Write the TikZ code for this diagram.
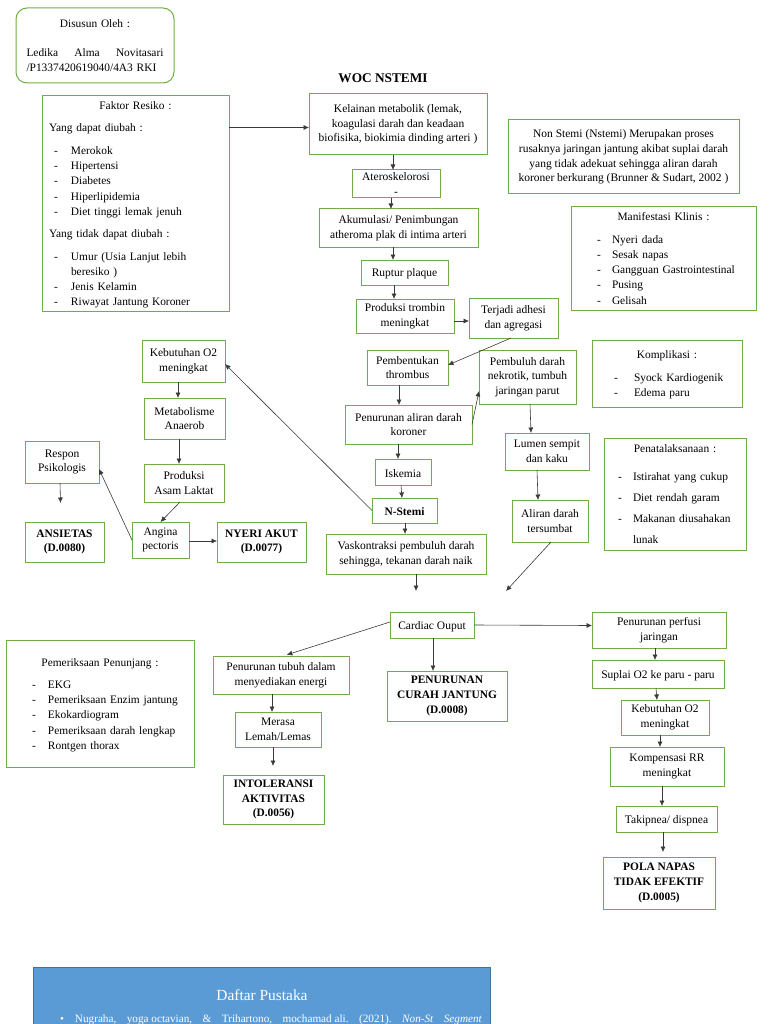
\documentclass[tikz,border=0pt]{standalone}
\usepackage{fontspec}
\setmainfont{Liberation Serif}
\usetikzlibrary{arrows.meta}
\definecolor{wocgreen}{HTML}{70AD47}
\definecolor{wocblue}{HTML}{5B9BD5}
\definecolor{wocedge}{HTML}{41719C}
\definecolor{wocline}{HTML}{3A3A3A}
\newcommand{\boxtitle}[1]{\makebox[\hsize][c]{#1}}
\newcommand{\dashline}[2][17pt]{\mbox{\makebox[#1][l]{-}#2}}

\begin{document}
\begin{tikzpicture}[x=1pt,y=-1pt,every node/.style={outer sep=0pt,inner sep=0pt}]
\tikzstyle{basebox}=[draw=wocgreen,line width=1pt,align=center,font=\fontsize{11.5}{14.6}\selectfont]
\tikzstyle{lowtext}=[execute at begin node={\rule{0pt}{11pt}}]
\tikzstyle{wocbox}=[basebox,lowtext]
\tikzstyle{diagbox}=[basebox,font=\fontsize{11.4}{14.6}\selectfont\bfseries]
\tikzstyle{listbox}=[basebox,align=left,font=\fontsize{11.4}{15.3}\selectfont]
\tikzstyle{flow}=[draw=wocline,line width=0.6pt,-{Latex[length=5.5pt,width=5pt]}]

\useasboundingbox (0,0) rectangle (768,1024);
\clip (0,0) rectangle (768,1024);

\node (disusun) at (95,45.5) [listbox,rounded corners=11pt,minimum width=158,minimum height=75,text width=137,font=\fontsize{11.4}{14.8}\selectfont] {\boxtitle{Disusun Oleh :}\\[14pt]\makebox[\hsize][s]{Ledika\hfill Alma\hfill Novitasari}\\/P1337420619040/4A3 RKI};
\node (title) at (383,78) [font=\fontsize{13.3}{15}\selectfont\bfseries] {WOC NSTEMI};

\node (faktor) at (135.5,203.5) [listbox,lowtext,minimum width=187,minimum height=215,text width=163] {\boxtitle{Faktor Resiko :}\\[7pt]\hspace*{-5pt}Yang dapat diubah :\\[7pt]\dashline{Merokok}\\\dashline{Hipertensi}\\\dashline{Diabetes}\\\dashline{Hiperlipidemia}\\\dashline{Diet tinggi lemak jenuh}\\[7pt]\hspace*{-5pt}Yang tidak dapat diubah :\\[7pt]\dashline{Umur (Usia Lanjut lebih}\\\hspace*{17pt}beresiko )\\\dashline{Jenis Kelamin}\\\dashline{Riwayat Jantung Koroner}};
\node (nonstemi) at (623.5,157) [wocbox,minimum width=231,minimum height=74] {Non Stemi (Nstemi) Merupakan proses\\rusaknya jaringan jantung akibat suplai darah\\yang tidak adekuat sehingga aliran darah\\koroner berkurang (Brunner \& Sudart, 2002 )};
\node (manifestasi) at (663.5,258.5) [listbox,minimum width=185,minimum height=103,text width=133] {\boxtitle{Manifestasi Klinis :}\\[7pt]\dashline[15pt]{Nyeri dada}\\\dashline[15pt]{Sesak napas}\\\dashline[15pt]{Gangguan Gastrointestinal}\\\dashline[15pt]{Pusing}\\\dashline[15pt]{Gelisah}};
\node (komplikasi) at (667,373.5) [listbox,lowtext,minimum width=150,minimum height=67,text width=106] {\boxtitle{Komplikasi :}\\[7pt]\dashline[20pt]{Syock Kardiogenik}\\\dashline[20pt]{Edema paru}};
\node (penata) at (675,494) [listbox,minimum width=142,minimum height=112,text width=114,font=\fontsize{11.4}{21}\selectfont] {\boxtitle{Penatalaksanaan :}\\[7pt]\dashline[15pt]{Istirahat yang cukup}\\\dashline[15pt]{Diet rendah garam}\\\dashline[15pt]{Makanan diusahakan}\\\hspace*{15pt}lunak};
\node (penunjang) at (100,703.5) [listbox,lowtext,minimum width=188,minimum height=127,text width=136] {\boxtitle{Pemeriksaan Penunjang :}\\[7pt]\dashline[16pt]{EKG}\\\dashline[16pt]{Pemeriksaan Enzim jantung}\\\dashline[16pt]{Ekokardiogram}\\\dashline[16pt]{Pemeriksaan darah lengkap}\\\dashline[16pt]{Rontgen thorax}};

\node (kelainan) at (398,124.5) [wocbox,minimum width=178,minimum height=61] {Kelainan metabolik (lemak,\\koagulasi darah dan keadaan\\biofisika, biokimia dinding arteri )};
\node (atero) at (396,184) [wocbox,minimum width=88,minimum height=28] {Ateroskelorosi\\-};
\node (akumulasi) at (398.5,228) [wocbox,minimum width=159,minimum height=38] {Akumulasi/ Penimbungan\\atheroma plak di intima arteri};
\node (ruptur) at (404.5,272.5) [wocbox,minimum width=87,minimum height=25] {Ruptur plaque};
\node (trombin) at (405,316) [wocbox,minimum width=98,minimum height=34] {Produksi trombin\\meningkat};
\node (adhesi) at (513.5,318) [wocbox,minimum width=89,minimum height=40] {Terjadi adhesi\\dan agregasi};
\node (thrombus) at (407.5,367.5) [wocbox,minimum width=81,minimum height=35] {Pembentukan\\thrombus};
\node (nekrotik) at (527.5,377) [wocbox,minimum width=97,minimum height=54] {Pembuluh darah\\nekrotik, tumbuh\\jaringan parut};
\node (koroner) at (408.5,424.5) [wocbox,minimum width=127,minimum height=39] {Penurunan aliran darah\\koroner};
\node (iskemia) at (403,472) [wocbox,minimum width=56,minimum height=26] {Iskemia};
\node (nstemi) at (404.5,510.5) [diagbox,lowtext,minimum width=65,minimum height=25] {N-Stemi};
\node (vaskon) at (406,554) [wocbox,minimum width=160,minimum height=40] {Vaskontraksi pembuluh darah\\sehingga, tekanan darah naik};
\node (lumen) at (547,451.5) [wocbox,minimum width=84,minimum height=37] {Lumen sempit\\dan kaku};
\node (tersumbat) at (550,521) [wocbox,minimum width=76,minimum height=42] {Aliran darah\\tersumbat};

\node (kebutuhan) at (183.5,361) [wocbox,minimum width=83,minimum height=42] {Kebutuhan O2\\meningkat};
\node (metabolisme) at (184.5,418.5) [wocbox,minimum width=81,minimum height=41] {Metabolisme\\Anaerob};
\node (asam) at (184,483) [wocbox,minimum width=80,minimum height=38] {Produksi\\Asam Laktat};
\node (respon) at (62,462) [wocbox,minimum width=74,minimum height=42] {Respon\\Psikologis};
\node (ansietas) at (64.5,542) [diagbox,lowtext,minimum width=79,minimum height=40] {ANSIETAS\\(D.0080)};
\node (angina) at (160.5,540) [wocbox,minimum width=57,minimum height=36] {Angina\\pectoris};
\node (nyeri) at (261.5,542) [diagbox,minimum width=89,minimum height=40] {NYERI AKUT\\(D.0077)};

\node (cardiac) at (432,625) [wocbox,minimum width=84,minimum height=26] {Cardiac Ouput};
\node (curah) at (447,696) [diagbox,lowtext,minimum width=120,minimum height=50] {PENURUNAN\\CURAH JANTUNG\\(D.0008)};
\node (tubuh) at (281,675) [wocbox,minimum width=136,minimum height=38] {Penurunan tubuh dalam\\menyediakan energi};
\node (merasa) at (278,729.5) [wocbox,minimum width=86,minimum height=35] {Merasa\\Lemah/Lemas};
\node (intoleransi) at (273.5,799.5) [diagbox,lowtext,minimum width=101,minimum height=49] {INTOLERANSI\\AKTIVITAS\\(D.0056)};
\node (perfusi) at (659,630) [wocbox,minimum width=134,minimum height=36] {Penurunan perfusi\\jaringan};
\node (suplai) at (658,674) [wocbox,minimum width=132,minimum height=28] {Suplai O2 ke paru - paru};
\node (kebutuhan2) at (665,717.5) [wocbox,minimum width=88,minimum height=35] {Kebutuhan O2\\meningkat};
\node (kompensasi) at (667,766.5) [wocbox,minimum width=114,minimum height=39] {Kompensasi RR\\meningkat};
\node (takipnea) at (666.5,819) [wocbox,minimum width=101,minimum height=26] {Takipnea/ dispnea};
\node (pola) at (659,883) [diagbox,lowtext,minimum width=112,minimum height=52] {POLA NAPAS\\TIDAK EFEKTIF\\(D.0005)};

\node (pustaka) at (261.5,997) [draw=wocedge,fill=wocblue,line width=0.8pt,minimum width=457,minimum height=60] {};
\node (pustaka_title) at (262,995) [text=white,font=\fontsize{15.4}{17}\selectfont] {Daftar Pustaka};
\node (pustaka_ref) at (271,1020) [text=white,font=\fontsize{11.2}{13}\selectfont] {\makebox[15pt][l]{•}\makebox[407pt][s]{Nugraha,\hfill yoga octavian,\hfill \&\hfill Trihartono,\hfill mochamad ali.\hfill (2021).\hfill \textit{Non-St\hfill Segment}}};

\coordinate (tersumbat_end) at (506,591);

\draw [flow] ([yshift=76pt]faktor.east) -- ([yshift=-3pt]kelainan.west);
\draw [flow] ([xshift=-5pt]kelainan.south) -- ([xshift=-3pt]atero.north);
\draw [flow] ([xshift=-5pt]atero.south) -- ([xshift=-7.5pt]akumulasi.north);
\draw [flow] ([xshift=-5.5pt]akumulasi.south) -- ([xshift=-11.5pt]ruptur.north);
\draw [flow] ([xshift=-10.5pt]ruptur.south) -- ([xshift=-11pt]trombin.north);
\draw [flow] ([yshift=-5pt]trombin.east) -- ([yshift=-3pt]adhesi.west);
\draw [flow] ([xshift=-2.5pt]adhesi.south) -- ([yshift=2.5pt]thrombus.east);
\draw [flow] ([xshift=-8.5pt]thrombus.south) -- ([xshift=-9.5pt]koroner.north);
\draw [flow] (koroner.east) -- ([yshift=-14pt]nekrotik.west);
\draw [flow] ([xshift=-10.5pt]koroner.south) -- ([xshift=-5pt]iskemia.north);
\draw [flow] ([xshift=-2pt]iskemia.south) -- ([xshift=-2.5pt]nstemi.north);
\draw [flow] ([xshift=0.5pt]nstemi.south) -- ([xshift=-1pt]vaskon.north);
\draw [flow] (nstemi.west) -- ([yshift=-3pt]kebutuhan.east);
\draw [flow] ([xshift=2.5pt]nekrotik.south) -- ([xshift=-16pt]lumen.north);
\draw [flow] ([xshift=-10pt]lumen.south) -- ([xshift=-12pt]tersumbat.north);
\draw [flow] ([xshift=1pt]tersumbat.south) -- (tersumbat_end);
\draw [flow,shorten >=21pt] ([xshift=10pt]vaskon.south) -- ([xshift=-16pt]cardiac.north);

\draw [flow] ([xshift=-5.5pt]kebutuhan.south) -- ([xshift=-6.5pt]metabolisme.north);
\draw [flow] ([xshift=-5.5pt]metabolisme.south) -- ([xshift=-5pt]asam.north);
\draw [flow] ([xshift=-4pt]asam.south) -- (angina.north);
\draw [flow] (angina.west) -- ([yshift=-7pt]respon.east);
\draw [flow] ([yshift=-1pt]angina.east) -- ([yshift=1pt]nyeri.west);
\draw [flow,shorten >=19pt] ([xshift=-2pt]respon.south) -- ([xshift=-3.5pt]ansietas.north);

\draw [flow,shorten >=4pt] ([yshift=3pt]cardiac.west) -- ([xshift=2pt]tubuh.north);
\draw [flow] ([xshift=1pt]cardiac.south) -- ([xshift=-14pt]curah.north);
\draw [flow] (cardiac.east) -- ([yshift=4.5pt]perfusi.west);
\draw [flow] ([xshift=-9pt]tubuh.south) -- ([xshift=-6pt]merasa.north);
\draw [flow,shorten >=9pt] ([xshift=-5pt]merasa.south) -- ([xshift=-0.5pt]intoleransi.north);
\draw [flow] ([xshift=-4pt]perfusi.south) -- ([xshift=-3pt]suplai.north);
\draw [flow] ([xshift=-2pt]suplai.south) -- ([xshift=-8pt]kebutuhan2.north);
\draw [flow] ([xshift=-5pt]kebutuhan2.south) -- ([xshift=-7pt]kompensasi.north);
\draw [flow] ([xshift=-5pt]kompensasi.south) -- ([xshift=-4.5pt]takipnea.north);
\draw [flow,shorten >=5pt] ([xshift=-3.5pt]takipnea.south) -- ([xshift=4pt]pola.north);

\end{tikzpicture}
\end{document}
